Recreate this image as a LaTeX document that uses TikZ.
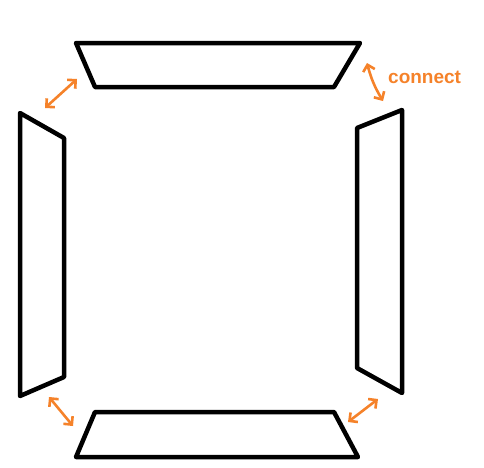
\documentclass[tikz,border=0pt]{standalone}
\usepackage{fontspec}
\setmainfont{Liberation Sans}
\usetikzlibrary{arrows.meta}
\definecolor{conn}{RGB}{245,130,42}

\begin{document}
\begin{tikzpicture}[x=1pt,y=-1pt,
   frame/.style={line width=4.5pt,line join=round},
   link/.style={conn,line width=2.6pt,{Straight Barb[length=6pt,width=12pt]}-{Straight Barb[length=6pt,width=12pt]}}]
\useasboundingbox (0,0) rectangle (484,467);
%
      \draw[frame] (76,43) -- (360,43) -- (334,87) -- (95,87) -- cycle;
         \draw[frame] (20,113) -- (64,138) -- (64,377) -- (20,396) -- cycle;
            \draw[frame] (402,110) -- (357,128) -- (357,368) -- (402,393) -- cycle;
              \draw[frame] (95,412) -- (334,412) -- (358,457) -- (76,457) -- cycle;
%
       \coordinate (tl a) at (45,108);
          \coordinate (tl b) at (77,79);
             \coordinate (tr a) at (367,63);
                \coordinate (tr b) at (383,101);
                  \coordinate (bl a) at (49,397);
                   \coordinate (bl b) at (73,426);
                    \coordinate (br a) at (378,399);
                     \coordinate (br b) at (348,422);
%
             \node [conn,font=\bfseries,inner sep=0pt,anchor=base west] at (388,83) (lbl) {\fontsize{19}{23}\selectfont connect};
%
%
\path[link] (tl a) edge (tl b);
\path[link] (tr a) edge [bend right=8] (tr b);
\path[link] (bl a) edge (bl b);
\path[link] (br a) edge (br b);

\end{tikzpicture}
\end{document}
